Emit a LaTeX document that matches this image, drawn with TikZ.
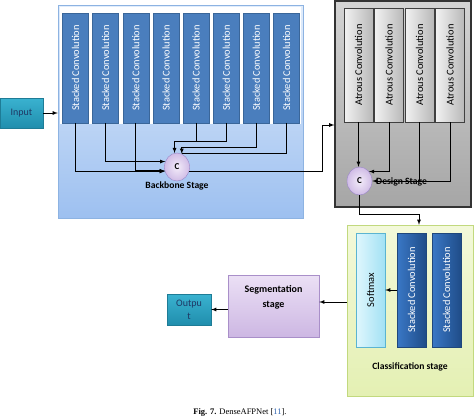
\documentclass[tikz,border=0pt]{standalone}
\usepackage{fontspec}
\setmainfont{Carlito}
\newfontfamily\capfont{Liberation Serif}
\usetikzlibrary{arrows,shapes,positioning}

\definecolor{convblue}{HTML}{4A7EBD}
\definecolor{convedge}{HTML}{3A6699}
\definecolor{bbedge}{HTML}{8DB3E2}
\definecolor{bbtop}{HTML}{E2EDFB}
\definecolor{bbbot}{HTML}{9DC0F0}
\definecolor{tealtop}{HTML}{3AB2D0}
\definecolor{tealbot}{HTML}{208EAD}
\definecolor{tealedge}{HTML}{1E7C96}
\definecolor{navytext}{HTML}{1F3864}
\definecolor{lavin}{HTML}{F3ECF9}
\definecolor{lavout}{HTML}{D0BCE6}
\definecolor{lavedge}{HTML}{9A86C8}
\definecolor{greentop}{HTML}{F3F9DA}
\definecolor{greenbot}{HTML}{E4F0B3}
\definecolor{greenedge}{HTML}{C2D97E}
\definecolor{segtop}{HTML}{EBE0F5}
\definecolor{segbot}{HTML}{CDB7E3}
\definecolor{segedge}{HTML}{A98FC9}
\definecolor{cyanleft}{HTML}{E0F7FD}
\definecolor{cyanright}{HTML}{A2E1F4}
\definecolor{cyanedge}{HTML}{5BB4D1}
\definecolor{deepleft}{HTML}{3A78C6}
\definecolor{deepright}{HTML}{1F4C88}
\definecolor{deepedge}{HTML}{1F477C}
\definecolor{refblue}{HTML}{2F64B0}

\begin{document}
\begin{tikzpicture}[x=1pt,y=-1pt,
    stackbar/.style={draw=convedge,fill=convblue,minimum width=26pt,minimum height=110pt,
      inner sep=0pt,text=white,font=\fontsize{10.4}{12}\selectfont},
    atrousbar/.style={draw=black!75,left color=black!5,right color=black!28,minimum width=29pt,
      minimum height=114pt,inner sep=0pt,font=\fontsize{10.4}{12}\selectfont},
    deepbar/.style={draw=deepedge,left color=deepleft,right color=deepright,minimum width=29pt,
      minimum height=114pt,inner sep=0pt,text=white,font=\fontsize{10.4}{12}\selectfont},
    mergenode/.style={ellipse,draw=lavedge,inner color=lavin,outer color=lavout,minimum width=25pt,
      minimum height=28pt,inner sep=0pt,font=\bfseries\fontsize{9}{10}\selectfont},
    tealbox/.style={draw=tealedge,top color=tealtop,bottom color=tealbot,inner sep=0pt,
      text=navytext,align=center,font=\fontsize{10}{12}\selectfont},
    stagetext/.style={inner sep=0pt,font=\bfseries\fontsize{9.6}{11}\selectfont},
    link/.style={line width=0.8pt}
  ]
  \useasboundingbox (0,0) rectangle (474,418);

  % backbone stage
  \node[draw=bbedge,top color=bbtop,bottom color=bbbot,minimum width=245pt,minimum height=213pt,inner sep=0pt] (bb) at (180.5,111.5) {};
  \fill[white] (60,7) rectangle (301,124);
  \foreach \i in {1,...,8}
    \node[stackbar] (s\i) at ({75.5+30.15*(\i-1)},68) {\rotatebox{90}{Stacked Convolution}};
  \node[mergenode] (cb) at (177,167) {C};
  \node[stagetext,below=0.5pt of cb] (bbl) {Backbone Stage};

  % input
  \node[tealbox,minimum width=43pt,minimum height=30pt] (inp) at (21.5,113) {Input};
  \draw[link,-latex] (inp.east) -- (inp.east -| bb.west);

  % dense links into C
  \draw[link,-latex] (s1.south) |- (cb.200);
  \draw[link,-latex] (s2.south) |- (cb.155);
  \draw[link,-latex] (s3.south) |- (cb.197);
  \draw[link] (s5.south) -- ++(0,18);
  \draw[link,-latex] (s6.south) -- ++(0,18) -| (cb.100);
  \draw[link,-latex] (s7.south) -- ++(0,24) -| (cb.70);
  \draw[link] (s8.south) |- (cb.70);

  % design stage
  \node[draw=black!80,line width=1.2pt,top color=black!17,bottom color=black!35,minimum width=136pt,minimum height=206pt,inner sep=0pt] (ds) at (403,104) {};
  \foreach \i in {1,...,4}
    \node[atrousbar] (a\i) at ({358.5+30.5*(\i-1)},65) {\rotatebox{90}{Atrous Convolution}};
  \node[mergenode] (cd) at (359.5,181) {C};

  \coordinate (k1) at (322,125);
  \draw[link,-latex] (cb.-20) -| (k1) -- (k1 -| ds.west);

  \draw[link,-latex] (a1.south) -- (a1.south |- cd.north);
  \draw[link,-latex] (a2.south) |- (cd.45);
  \draw[link] (a3.south) -- (a3.south |- cd.east);
  \draw[link,-latex] (a4.south) |- (cd.east);
  \node[stagetext,anchor=west] (dsl) at (376,182) {Design Stage};

  % classification stage
  \node[draw=greenedge,top color=greentop,bottom color=greenbot,minimum width=126pt,minimum height=171pt,inner sep=0pt] (cls) at (410,310.5) {};
  \node[draw=cyanedge,left color=cyanleft,right color=cyanright,minimum width=29pt,minimum height=114pt,inner sep=0pt,font=\fontsize{10.4}{12}\selectfont] (sm) at (370.5,290) {\rotatebox{90}{Softmax}};
  \node[deepbar] (c1) at (411.5,290) {\rotatebox{90}{Stacked Convolution}};
  \node[deepbar] (c2) at (446.5,290) {\rotatebox{90}{Stacked Convolution}};
  \node[stagetext] (clsl) at (410,367) {Classification stage};
  \draw[link,-latex] (c1.west) -- (sm.east);

  \coordinate (k2) at (419,214);
  \draw[link,-latex] (cd.south) |- (k2) -- (k2 |- cls.north);

  % segmentation and output
  \node[draw=segedge,top color=segtop,bottom color=segbot,minimum width=91pt,minimum height=62pt,inner sep=0pt,align=center,font=\bfseries\fontsize{10}{15}\selectfont] (seg) at (273.5,306) {Segmentation\\stage\\[4pt]};
  \node[tealbox,minimum width=44pt,minimum height=31pt,font=\fontsize{10}{13}\selectfont] (out) at (189,309.5) {Outpu\\t};
  \coordinate (sg) at ([yshift=4pt]seg.east);
  \draw[link,-latex] (sg -| cls.west) -- (sg);
  \draw[link,-latex] (seg.west |- out.east) -- (out.east);

  \node[font=\capfont\fontsize{8.5}{10}\selectfont] (cap) at (240,412) {\textbf{Fig. 7.} DenseAFPNet [\textcolor{refblue}{11}].};
\end{tikzpicture}
\end{document}
